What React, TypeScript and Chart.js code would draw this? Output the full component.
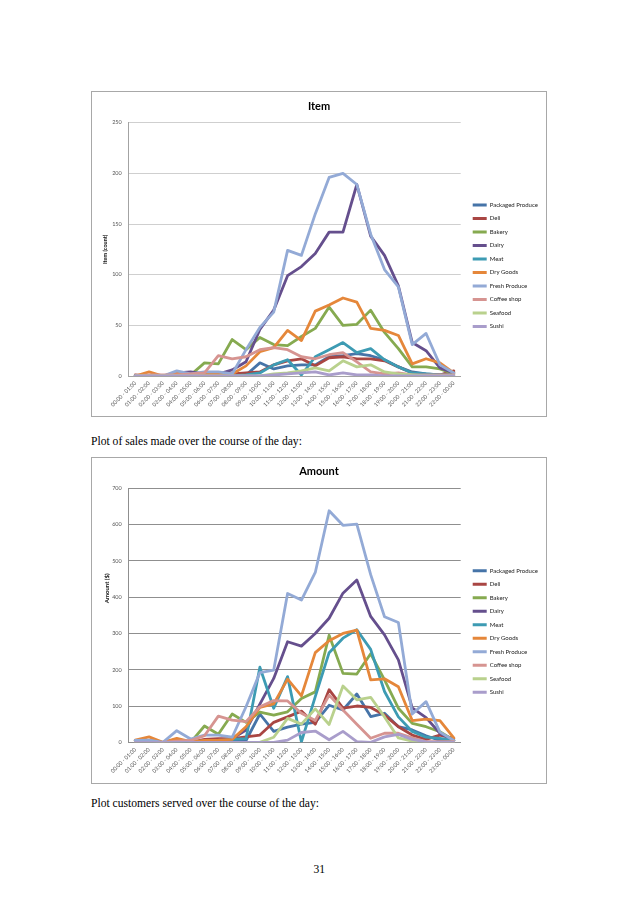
import React, { useEffect, useRef, useState } from "react";
import { Chart, registerables } from "chart.js";

Chart.register(...registerables);

const categories = [
  "00:00 - 01:00", "01:00 - 02:00", "02:00 - 03:00", "03:00 - 04:00", "04:00 - 05:00", "05:00 - 06:00",
  "06:00 - 07:00", "07:00 - 08:00", "08:00 - 09:00", "09:00 - 10:00", "10:00 - 11:00", "11:00 - 12:00",
  "12:00 - 13:00", "13:00 - 14:00", "14:00 - 15:00", "15:00 - 16:00", "16:00 - 17:00", "17:00 - 18:00",
  "18:00 - 19:00", "19:00 - 20:00", "20:00 - 21:00", "21:00 - 22:00", "22:00 - 23:00", "23:00 - 00:00",
];

const seriesNames = [
  "Packaged Produce", "Deli", "Bakery", "Dairy", "Meat", "Dry Goods",
  "Fresh Produce", "Coffee shop", "Seafood", "Sushi",
];

const seriesColors = [
  "#4674A8", "#A94643", "#86AA50", "#654F8D", "#3D9BB3", "#E5873A",
  "#93AAD6", "#D69491", "#B9D18D", "#A99DCB",
];

// Item (count)
const itemPackaged = [0, 0, 0, 1, 1, 1, 1, 1, 1, 13, 7, 10, 11, 11, 19, 20, 22, 20, 16, 9, 4, 2, 1, 4];
const itemDeli = [1, 0, 0, 1, 1, 1, 1, 2, 3, 4, 11, 15, 17, 10, 18, 19, 17, 17, 15, 9, 3, 1, 1, 5];
const itemBakery = [0, 0, 0, 1, 1, 13, 12, 36, 26, 38, 31, 30, 39, 47, 68, 50, 51, 65, 43, 27, 9, 9, 7, 2];
const itemDairy = [0, 0, 0, 3, 4, 2, 2, 6, 14, 46, 65, 99, 108, 121, 142, 142, 189, 138, 119, 89, 33, 25, 8, 3];
const itemMeat = [0, 0, 0, 0, 0, 0, 0, 0, 1, 3, 11, 16, 1, 19, 26, 33, 23, 27, 16, 9, 3, 2, 1, 1];
const itemDryGoods = [0, 4, 0, 3, 1, 2, 2, 2, 10, 24, 28, 45, 35, 64, 70, 77, 73, 47, 45, 40, 12, 17, 13, 3];
const itemFresh = [0, 0, 0, 5, 2, 4, 4, 2, 26, 48, 63, 124, 119, 160, 196, 200, 189, 140, 105, 88, 31, 42, 11, 3];
const itemCoffee = [0, 1, 1, 1, 2, 3, 20, 17, 19, 26, 28, 26, 19, 17, 21, 23, 14, 4, 2, 3, 1, 1, 1, 1];
const itemSeafood = [0, 0, 0, 0, 0, 0, 0, 0, 0, 0, 2, 3, 5, 8, 5, 15, 9, 11, 4, 2, 1, 0, 0, 0];
const itemSushi = [0, 0, 0, 0, 0, 0, 0, 0, 0, 0, 1, 2, 3, 4, 1, 3, 1, 1, 0, 0, 0, 0, 0, 0];

// Amount ($)
const amtPackaged = [0, 5, 0, 3, 0, 3, 5, 5, 5, 78, 30, 42, 50, 55, 102, 89, 133, 71, 80, 43, 34, 18, 5, 5];
const amtDeli = [5, 0, 0, 3, 0, 8, 10, 10, 15, 20, 55, 70, 86, 50, 145, 94, 100, 96, 75, 43, 20, 8, 20, 11];
const amtBakery = [0, 0, 0, 5, 0, 45, 22, 78, 55, 83, 75, 84, 121, 139, 295, 190, 188, 244, 172, 94, 52, 43, 29, 6];
const amtDairy = [0, 0, 0, 8, 0, 5, 5, 10, 34, 105, 176, 277, 265, 300, 342, 411, 447, 347, 296, 227, 95, 68, 25, 5];
const amtMeat = [5, 0, 0, 0, 0, 3, 3, 8, 10, 207, 94, 181, 1, 126, 247, 287, 310, 256, 140, 70, 30, 14, 11, 5];
const amtDryGoods = [6, 15, 0, 11, 2, 5, 6, 8, 43, 96, 106, 174, 128, 247, 280, 300, 309, 172, 175, 153, 60, 64, 60, 12];
const amtFresh = [5, 6, 0, 32, 9, 20, 20, 14, 98, 192, 199, 410, 392, 468, 638, 598, 601, 462, 346, 330, 78, 112, 28, 5];
const amtCoffee = [0, 0, 0, 3, 5, 18, 72, 61, 57, 98, 115, 114, 80, 60, 130, 89, 50, 11, 25, 25, 12, 2, 2, 2];
const amtSeafood = [0, 0, 0, 0, 0, 0, 0, 0, 0, 0, 14, 66, 50, 92, 49, 155, 117, 124, 70, 12, 3, 0, 0, 0];
const amtSushi = [0, 0, 0, 0, 0, 0, 0, 0, 0, 0, 0, 6, 27, 31, 7, 30, 2, 0, 15, 22, 8, 1, 0, 0];

const itemSeries = [itemPackaged, itemDeli, itemBakery, itemDairy, itemMeat, itemDryGoods, itemFresh, itemCoffee, itemSeafood, itemSushi];
const amtSeries = [amtPackaged, amtDeli, amtBakery, amtDairy, amtMeat, amtDryGoods, amtFresh, amtCoffee, amtSeafood, amtSushi];

const itemTicks = { min: 0, max: 250, step: 50 };
const amtTicks = { min: 0, max: 700, step: 100 };

const SANS = "Lato, 'Open Sans', sans-serif";

type Cfg = {
  title: string;
  yTitle: string;
  yTitleSize: number;
  yTitlePad: number;
  series: number[][];
  ticks: { min: number; max: number; step: number };
  gridColor: string;
  axisColor: string;
  titlePadTop: number;
  titlePadBottom: number;
  xHeight: number;
  legendTop: number;
};

function LineChart({ cfg, width, height }: { cfg: Cfg; width: number; height: number }) {
  const ref = useRef<HTMLCanvasElement | null>(null);
  const [err, setErr] = useState<string>("");
  useEffect(() => {
    if (!ref.current) return;
    let chart: any = null;
    try {
      const YW = 36.3;
      const LEGEND_W = 85.3;
      const legendPlugin = {
        id: "legendFix",
        afterInit(c: any) {
          const lg = c.legend;
          if (!lg) return;
          const orig = lg.fit.bind(lg);
          lg.fit = function () {
            orig();
            lg.width = LEGEND_W;
          };
        },
        afterLayout(c: any) {
          const lg = c.legend;
          if (!lg || !c.chartArea) return;
          const w = lg.width;
          lg.left = c.chartArea.right + 4.5;
          lg.right = lg.left + w;
          lg.top = cfg.legendTop;
        },
      };
      chart = new Chart(ref.current, {
        type: "line",
        data: {
          labels: categories,
          datasets: cfg.series.map((d, i) => ({
            label: seriesNames[i],
            data: d,
            borderColor: seriesColors[i],
            backgroundColor: seriesColors[i],
            borderWidth: 2.8,
            pointRadius: 0,
            pointHoverRadius: 0,
            tension: 0,
            borderJoinStyle: "round",
            borderCapStyle: "round",
            order: -i,
          })),
        },
        options: {
          responsive: false,
          animation: false,
          devicePixelRatio: 1,
          layout: { padding: 0 },
          plugins: {
            title: {
              display: true,
              text: cfg.title,
              color: "#000",
              font: { family: SANS, size: 11, weight: "bold" },
              padding: { top: cfg.titlePadTop, bottom: cfg.titlePadBottom },
            },
            legend: {
              display: true,
              position: "right",
              align: "start",
              labels: {
                boxWidth: 14,
                boxHeight: 3,
                padding: 7.5,
                color: "#222",
                font: { family: SANS, size: 6 },
                sort: (a: any, b: any) => a.datasetIndex - b.datasetIndex,
                generateLabels: (c: any) =>
                  c.data.datasets.map((ds: any, i: number) => ({
                    text: ds.label,
                    fillStyle: ds.borderColor,
                    strokeStyle: ds.borderColor,
                    fontColor: "#222",
                    lineWidth: 0,
                    hidden: false,
                    datasetIndex: i,
                  })),
              },
            },
            tooltip: { enabled: false },
          },
          scales: {
            x: {
              type: "category",
              offset: true,
              grid: { display: false, drawTicks: false },
              border: { display: true, color: cfg.axisColor, width: 1 },
              ticks: {
                autoSkip: false,
                maxRotation: 45,
                minRotation: 45,
                padding: 4,
                color: "#555",
                font: { family: SANS, size: 5.5 },
              },
              afterFit: (s: any) => {
                s.height = cfg.xHeight;
              },
            },
            y: {
              min: cfg.ticks.min,
              max: cfg.ticks.max,
              ticks: {
                stepSize: cfg.ticks.step,
                padding: 6.6,
                color: "#555",
                font: { family: SANS, size: 5.5 },
              },
              grid: { color: cfg.gridColor, lineWidth: 1, drawTicks: false },
              border: { display: true, color: cfg.axisColor, width: 1 },
              title: {
                display: true,
                text: cfg.yTitle,
                color: "#111",
                font: { family: SANS, size: cfg.yTitleSize, weight: "bold" },
                padding: { top: cfg.yTitlePad, bottom: 0 },
              },
              afterFit: (s: any) => {
                s.width = YW;
              },
            },
          },
        },
        plugins: [legendPlugin],
      } as any);
    } catch (e: any) {
      setErr(String(e && e.stack ? e.stack : e));
    }
    return () => {
      if (chart) chart.destroy();
    };
  }, [cfg, width, height]);
  return (
    <>
      <canvas ref={ref} width={width} height={height} style={{ display: "block", width, height }} />
      {err ? <div style={{ position: "absolute", left: 0, top: 0, fontSize: 10, color: "red", whiteSpace: "pre-wrap" }}>{err}</div> : null}
    </>
  );
}

const topCfg: Cfg = {
  title: "Item",
  yTitle: "Item (count)",
  yTitleSize: 5.5,
  yTitlePad: 10.4,
  series: itemSeries,
  ticks: itemTicks,
  gridColor: "#cfcfcf",
  axisColor: "#a3a3a3",
  titlePadTop: 7.4,
  titlePadBottom: 10.1,
  xHeight: 40,
  legendTop: 102.5,
};

const botCfg: Cfg = {
  title: "Amount",
  yTitle: "\u2002".repeat(18) + "Amount ($)",
  yTitleSize: 6,
  yTitlePad: 11.7,
  series: amtSeries,
  ticks: amtTicks,
  gridColor: "#8f8f8f",
  axisColor: "#8f8f8f",
  titlePadTop: 7.1,
  titlePadBottom: 10,
  xHeight: 40.7,
  legendTop: 102.2,
};

const frameStyle = (left: number, top: number, w: number, h: number): React.CSSProperties => ({
  position: "absolute",
  left,
  top,
  width: w,
  height: h,
  boxSizing: "border-box",
  border: "1px solid #a8a8a8",
  background: "#fff",
});

const textStyle = (left: number, top: number): React.CSSProperties => ({
  position: "absolute",
  left,
  top,
  fontFamily: "'Liberation Serif', 'DejaVu Serif', serif",
  fontSize: 11.6,
  lineHeight: "13px",
  color: "#000",
  whiteSpace: "nowrap",
});

export default function App() {
  return (
    <div style={{ position: "relative", width: 638, height: 903, margin: -8 }}>
      <div style={frameStyle(91, 91, 456, 326)}>
        <LineChart cfg={topCfg} width={454} height={324} />
      </div>
      <div style={textStyle(91, 434.5)}>Plot of sales made over the course of the day:</div>
      <div style={frameStyle(91, 457, 456, 327)}>
        <LineChart cfg={botCfg} width={454} height={325} />
      </div>
      <div style={textStyle(91, 796.5)}>Plot customers served over the course of the day:</div>
      <div style={textStyle(313.5, 862.5)}>31</div>
    </div>
  );
}
